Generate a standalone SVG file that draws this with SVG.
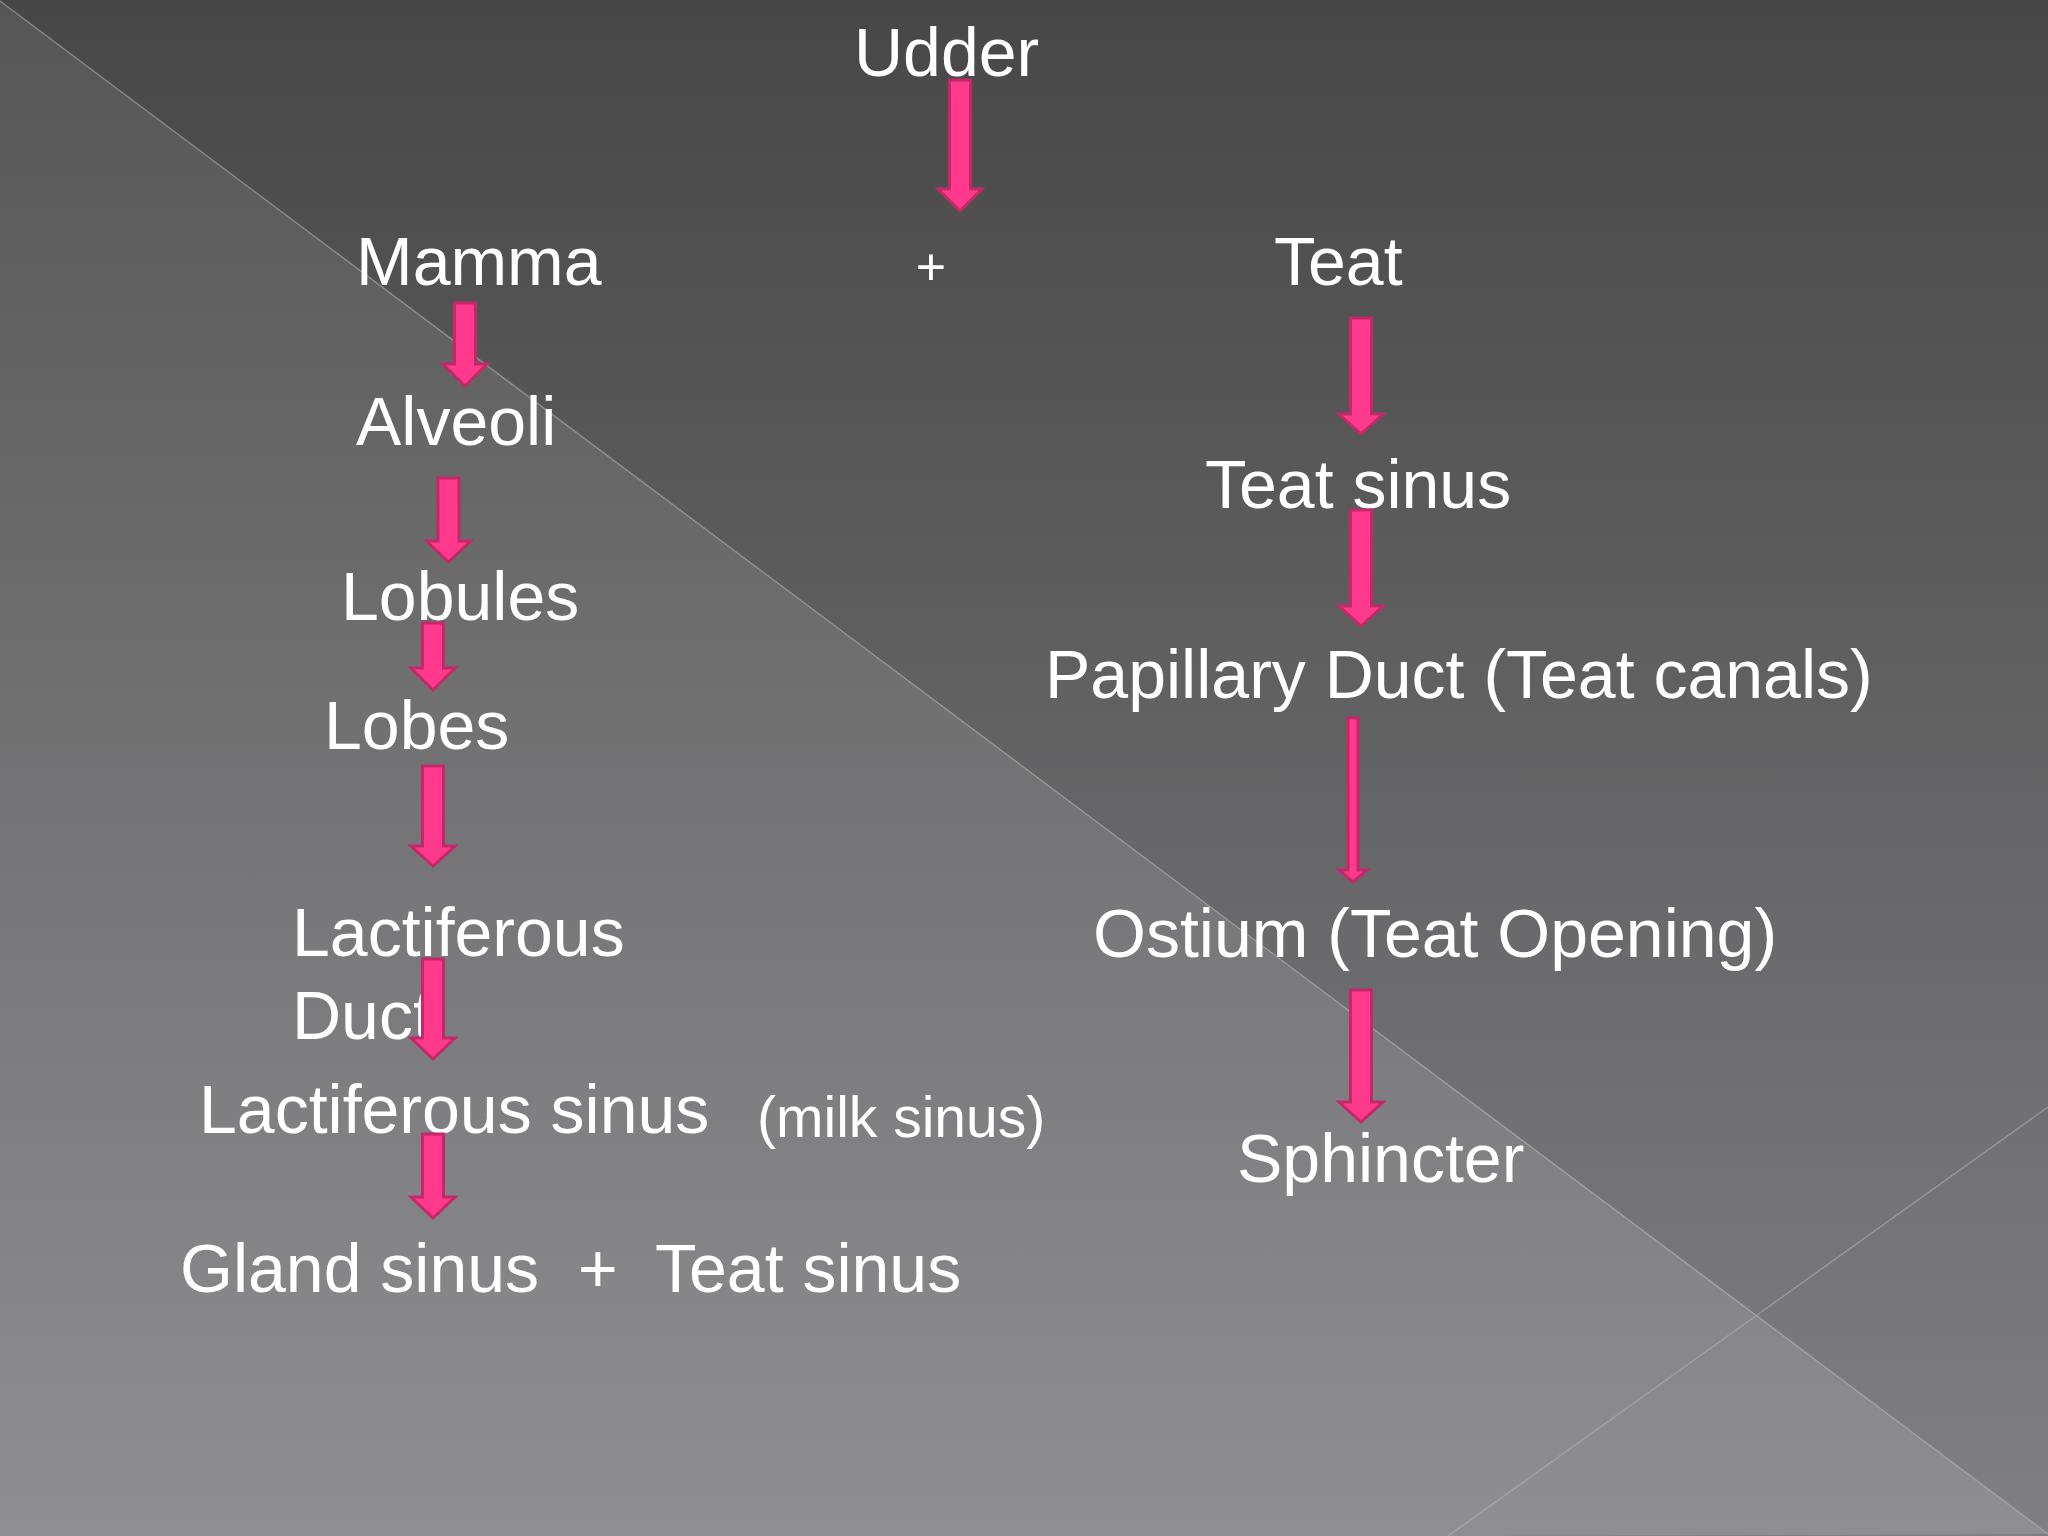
<svg xmlns="http://www.w3.org/2000/svg" width="2048" height="1536" viewBox="0 0 2048 1536">
<defs>
<linearGradient id="gDark" x1="0" y1="0" x2="0" y2="1536" gradientUnits="userSpaceOnUse">
<stop offset="0" stop-color="#474747"/>
<stop offset="1" stop-color="#807f82"/>
</linearGradient>
<linearGradient id="gLight" x1="0" y1="0" x2="0" y2="1536" gradientUnits="userSpaceOnUse">
<stop offset="0" stop-color="#565656"/>
<stop offset="1" stop-color="#8f8e91"/>
</linearGradient>
<style>
.t{font-family:"Liberation Sans",Arial,sans-serif;font-size:68px;fill:#ffffff}
.s{font-family:"Liberation Sans",Arial,sans-serif;font-size:57px;fill:#ffffff}
.p{font-family:"Liberation Sans",Arial,sans-serif;font-size:52px;fill:#ffffff;text-anchor:middle}
.arr{fill:#ff3a8c;stroke:#c4286b;stroke-width:3;stroke-linejoin:miter}
.bgl{stroke:#b8b8b8;stroke-width:1.5;opacity:0.5;fill:none}
</style>
</defs>
<g id="background">
<rect x="0" y="0" width="2048" height="1536" fill="url(#gDark)"/>
<polygon points="0,1 1757,1315 1448,1536 0,1536" fill="url(#gLight)"/>
<polygon points="1448,1536 1757,1315 2048,1534" fill="url(#gLight)"/>
<line class="bgl" x1="0" y1="1" x2="2048" y2="1534"/>
<line class="bgl" x1="1448" y1="1536" x2="2048" y2="1107"/>
</g>
<g id="node-udder"><text class="t" x="854" y="76">Udder</text></g>
<g id="node-plus-top"><text class="p" x="931" y="285">+</text></g>
<g id="node-mamma"><text class="t" x="356" y="285">Mamma</text></g>
<g id="node-alveoli"><text class="t" x="356" y="445">Alveoli</text></g>
<g id="node-lobules"><text class="t" x="341" y="620">Lobules</text></g>
<g id="node-lobes"><text class="t" x="324" y="749">Lobes</text></g>
<g id="node-lactiferous-duct"><text class="t" x="292" y="956">Lactiferous</text><text class="t" x="292" y="1039">Duct</text></g>
<g id="node-lactiferous-sinus"><text class="t" x="199" y="1133">Lactiferous sinus</text><text class="s" x="757" y="1137">(milk sinus)</text></g>
<g id="node-gland-teat-sinus"><text class="t" x="180" y="1292">Gland sinus</text><text class="t" x="578" y="1292">+</text><text class="t" x="655" y="1292">Teat sinus</text></g>
<g id="node-teat"><text class="t" x="1274" y="285">Teat</text></g>
<g id="node-teat-sinus"><text class="t" x="1205" y="508">Teat sinus</text></g>
<g id="node-papillary-duct"><text class="t" x="1045" y="698">Papillary Duct (Teat canals)</text></g>
<g id="node-ostium"><text class="t" x="1093" y="957">Ostium (Teat Opening)</text></g>
<g id="node-sphincter"><text class="t" x="1237" y="1182">Sphincter</text></g>
<g id="connectors">
<path class="arr" d="M949.5,80 H970.5 V189 H982 L960,211 L938,189 H949.5 Z"/>
<path class="arr" d="M454.5,303 H475.5 V364 H487 L465,386 L443,364 H454.5 Z"/>
<path class="arr" d="M438,478 H459 V541 H470.5 L448.5,562 L426.5,541 H438 Z"/>
<path class="arr" d="M422.5,623 H443.5 V668 H455 L433,690 L411,668 H422.5 Z"/>
<path class="arr" d="M422.5,766 H443.5 V846 H455 L433,866 L411,846 H422.5 Z"/>
<path class="arr" d="M422.5,959 H443.5 V1038 H455 L433,1059 L411,1038 H422.5 Z"/>
<path class="arr" d="M422.5,1134 H443.5 V1197 H455 L433,1218 L411,1197 H422.5 Z"/>
<path class="arr" d="M1350.5,318 H1371.5 V414 H1383 L1361,434 L1339,414 H1350.5 Z"/>
<path class="arr" d="M1350.5,510 H1371.5 V606 H1383 L1361,626 L1339,606 H1350.5 Z"/>
<path class="arr" d="M1348,718 H1358 V870 H1367 L1353,882 L1339,870 H1348 Z"/>
<path class="arr" d="M1350.5,990 H1371.5 V1102 H1383 L1361,1122 L1339,1102 H1350.5 Z"/>
</g>
</svg>
